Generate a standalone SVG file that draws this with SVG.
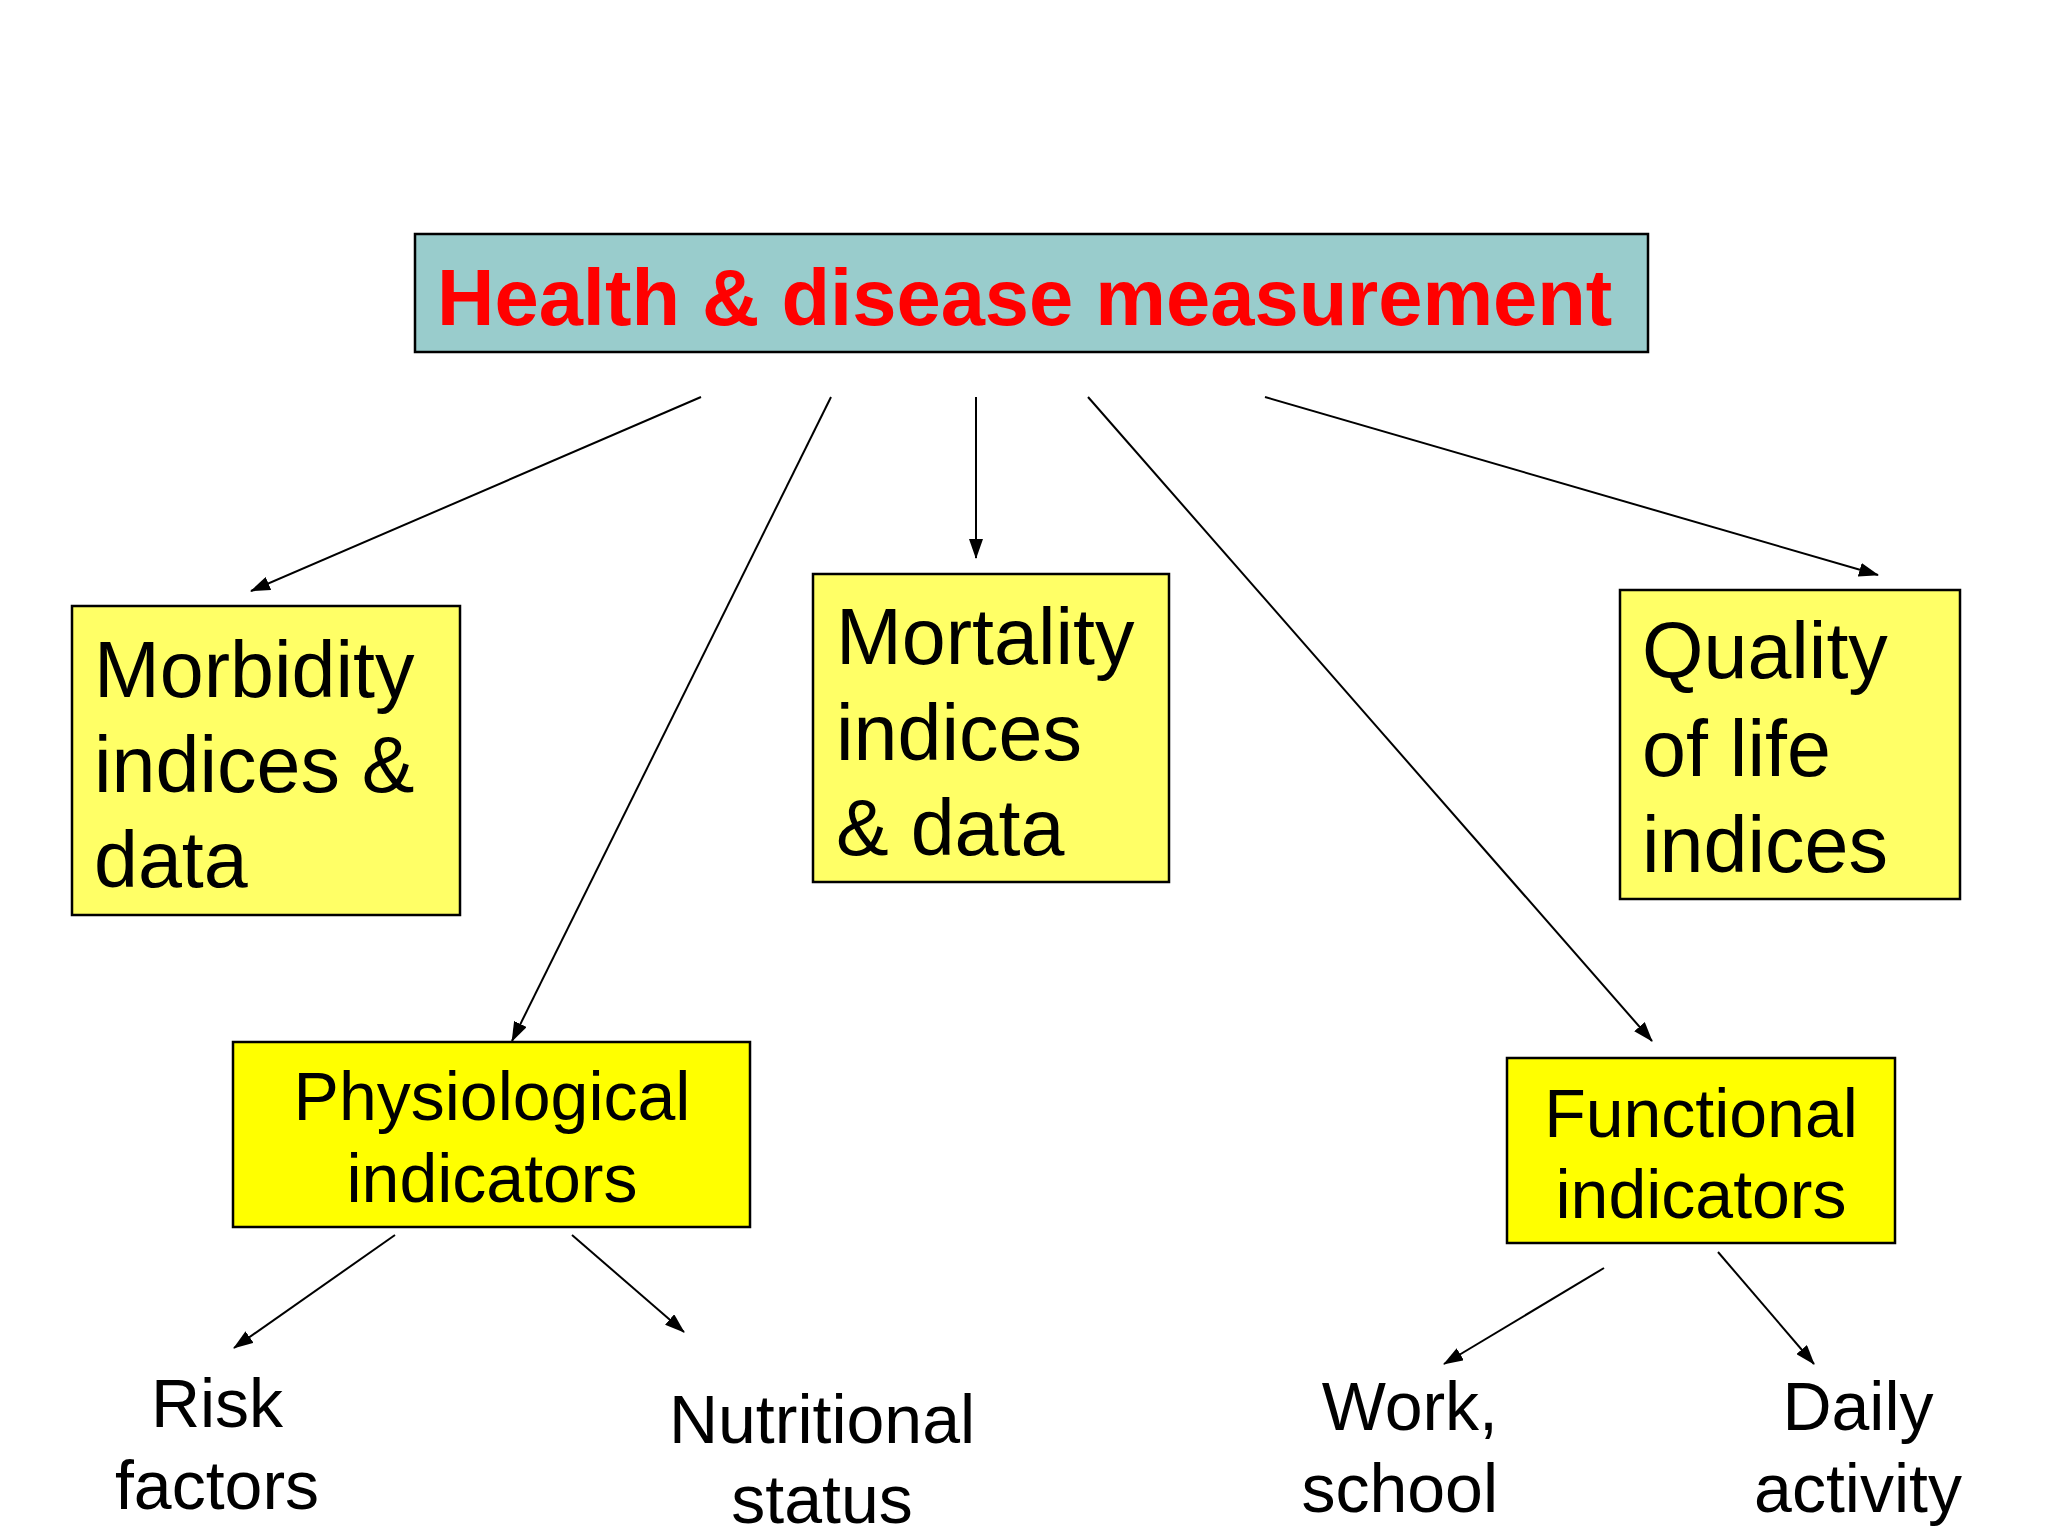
<svg xmlns="http://www.w3.org/2000/svg" width="2048" height="1536" viewBox="0 0 2048 1536">
<style>
.box{stroke:#000;stroke-width:2.5}
.pale{fill:#FFFF66}
.bright{fill:#FFFF00}
.t{font-family:"Liberation Sans",Arial,sans-serif;fill:#000}
.big{font-size:79px}
.mid{font-size:68px;text-anchor:middle}
.title{font-family:"Liberation Sans",Arial,sans-serif;font-weight:bold;font-size:79.5px;fill:#FF0000}
.conn line{stroke:#000;stroke-width:2;marker-end:url(#ah)}
</style>
<defs>
<marker id="ah" markerUnits="userSpaceOnUse" markerWidth="20" markerHeight="14" viewBox="0 0 20 14" refX="19" refY="7" orient="auto">
<path d="M0,0 L20,7 L0,14 z" fill="#000"/>
</marker>
</defs>
<rect width="2048" height="1536" fill="#fff"/>
<g id="title">
<rect class="box" x="415" y="234" width="1233" height="118" fill="#99CCCC"/>
<text class="title" x="437" y="325">Health &amp; disease measurement</text>
</g>
<g id="morbidity">
<rect class="box pale" x="72" y="606" width="388" height="309"/>
<text class="t big" x="94" y="697">Morbidity</text>
<text class="t big" x="94" y="792">indices &amp;</text>
<text class="t big" x="94" y="887">data</text>
</g>
<g id="mortality">
<rect class="box pale" x="813" y="574" width="356" height="308"/>
<text class="t big" x="836" y="664">Mortality</text>
<text class="t big" x="836" y="760">indices</text>
<text class="t big" x="836" y="855">&amp; data</text>
</g>
<g id="quality">
<rect class="box pale" x="1620" y="590" width="340" height="309"/>
<text class="t big" x="1642" y="678">Quality</text>
<text class="t big" x="1642" y="776">of life</text>
<text class="t big" x="1642" y="872">indices</text>
</g>
<g id="physiological">
<rect class="box bright" x="233" y="1042" width="517" height="185"/>
<text class="t mid" x="492" y="1120">Physiological</text>
<text class="t mid" x="492" y="1202">indicators</text>
</g>
<g id="functional">
<rect class="box bright" x="1507" y="1058" width="388" height="185"/>
<text class="t mid" x="1701" y="1137">Functional</text>
<text class="t mid" x="1701" y="1218">indicators</text>
</g>
<g id="risk">
<text class="t mid" x="217" y="1427">Risk</text>
<text class="t mid" x="217" y="1509">factors</text>
</g>
<g id="nutritional">
<text class="t mid" x="822" y="1443">Nutritional</text>
<text class="t mid" x="822" y="1523">status</text>
</g>
<g id="work">
<text class="t" font-size="68" text-anchor="end" x="1498" y="1430">Work,</text>
<text class="t" font-size="68" text-anchor="end" x="1498" y="1512">school</text>
</g>
<g id="daily">
<text class="t mid" x="1858" y="1430">Daily</text>
<text class="t mid" x="1858" y="1512">activity</text>
</g>
<g id="connectors" class="conn">
<line x1="701" y1="397" x2="251" y2="591"/>
<line x1="831" y1="397" x2="512" y2="1041"/>
<line x1="976" y1="397" x2="976" y2="558"/>
<line x1="1088" y1="397" x2="1652" y2="1041"/>
<line x1="1265" y1="397" x2="1878" y2="575"/>
<line x1="395" y1="1235" x2="234" y2="1348"/>
<line x1="572" y1="1235" x2="684" y2="1332"/>
<line x1="1604" y1="1268" x2="1444" y2="1364"/>
<line x1="1718" y1="1252" x2="1814" y2="1364"/>
</g>
</svg>
